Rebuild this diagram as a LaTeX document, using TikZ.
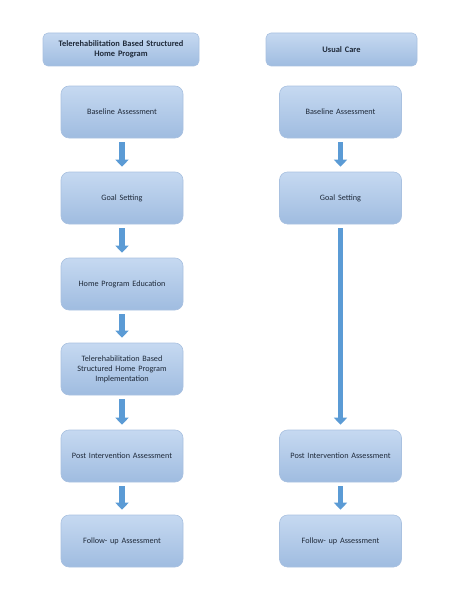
\documentclass[tikz,border=0pt]{standalone}
\usepackage{fontspec}
\setmainfont{Carlito}
\usetikzlibrary{arrows.meta}
\definecolor{boxtop}{HTML}{C6D9F1}
\definecolor{boxbot}{HTML}{9FBCE0}
\definecolor{boxline}{HTML}{A9C1E0}
\definecolor{arrowc}{HTML}{5B9BD5}
\definecolor{txt}{HTML}{1F2A3A}
\tikzset{
  stepbox/.style={draw=boxline, line width=0.6pt, rounded corners=8pt,
    top color=boxtop, bottom color=boxbot, minimum width=122pt, minimum height=52pt,
    text width=114pt, align=center, font=\fontsize{8.2}{10}\selectfont, text=txt, inner sep=0pt},
  headbox/.style={draw=boxline, line width=0.6pt, rounded corners=5pt,
    top color=boxtop, bottom color=boxbot, minimum height=33pt,
    align=center, font=\fontsize{8.4}{10}\selectfont\bfseries, text=txt, inner sep=0pt},
  flow/.style={draw=arrowc, line width=5.5pt, -{Triangle[width=13pt,length=7pt]},
    shorten <=4pt, shorten >=5pt}
}
\begin{document}
\begin{tikzpicture}[x=1pt,y=-1pt]
\useasboundingbox (0,0) rectangle (474,594);
\node[headbox, minimum width=156pt, text width=152pt] (h1) at (121,49.5) {Telerehabilitation Based Structured\\Home Program};
\node[headbox, minimum width=151pt, text width=147pt] (h2) at (341.5,49.5) {Usual Care};
\node[stepbox] (a1) at (122,112) {Baseline Assessment};
\node[stepbox] (a2) at (122,198) {Goal Setting};
\node[stepbox] (a3) at (122,284) {Home Program Education};
\node[stepbox] (a4) at (122,369) {Telerehabilitation Based\\Structured Home Program\\Implementation};
\node[stepbox] (a5) at (122,456) {Post Intervention Assessment};
\node[stepbox] (a6) at (122,541) {Follow- up Assessment};
\node[stepbox] (b1) at (340.5,112) {Baseline Assessment};
\node[stepbox] (b2) at (340.5,198) {Goal Setting};
\node[stepbox] (b5) at (340.5,456) {Post Intervention Assessment};
\node[stepbox] (b6) at (340.5,541) {Follow- up Assessment};
\draw[flow] (a1) -- (a2);
\draw[flow] (a2) -- (a3);
\draw[flow] (a3) -- (a4);
\draw[flow] (a4) -- (a5);
\draw[flow] (a5) -- (a6);
\draw[flow] (b1) -- (b2);
\draw[flow] (b2) -- (b5);
\draw[flow] (b5) -- (b6);
\end{tikzpicture}
\end{document}
